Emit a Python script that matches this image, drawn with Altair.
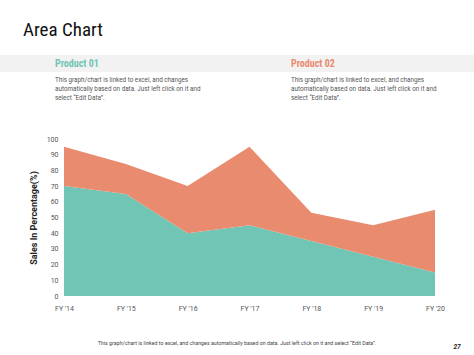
import altair as alt
import pandas as pd

years = ["FY '14", "FY '15", "FY '16", "FY '17", "FY '18", "FY '19", "FY '20"]
product_01 = [70, 65, 40, 45, 35, 25, 15]
product_02 = [25, 19, 30, 50, 18, 20, 40]
series_names = ["Product 01", "Product 02"]
colors = ["#71C5B5", "#E98B6E"]
y_ticks = [0, 10, 20, 30, 40, 50, 60, 70, 80, 90, 100]

desc = ["This graph/chart is linked to excel, and changes",
        "automatically based on data. Just left click on it and",
        "select \u201cEdit Data\u201d."]
footer = "This graph/chart is linked to excel, and changes automatically  based on data. Just left click on it and select \u201cEdit Data\u201d."

rows = []
for i, y in enumerate(years):
    rows.append({"year": y, "series": series_names[0], "value": product_01[i], "ord": 0})
    rows.append({"year": y, "series": series_names[1], "value": product_02[i], "ord": 1})
df = pd.DataFrame(rows)

W, H = 371, 157
L, T = 64, 139
FONT = "Liberation Sans Narrow, Roboto Condensed, Roboto, sans-serif"
BODY = "Roboto, Liberation Sans, sans-serif"

area = alt.Chart(df).mark_area(opacity=1).encode(
    x=alt.X("year:N", sort=years, scale=alt.Scale(type="point", padding=0),
            axis=alt.Axis(title=None, labelAngle=0, domain=False, ticks=False,
                          labelColor="#555555", labelFontSize=7, labelFont=BODY,
                          labelPadding=8)),
    y=alt.Y("value:Q", stack="zero", scale=alt.Scale(domain=[0, 100], nice=False),
            axis=alt.Axis(values=y_ticks, title="Sales In Percentage(%)", grid=False,
                          domain=False, ticks=False, labelColor="#555555",
                          labelFontSize=7, labelFont=BODY, labelPadding=6,
                          titleFontSize=9, titleFont=BODY, titleColor="#222222",
                          titleFontWeight="bold", titlePadding=8)),
    color=alt.Color("series:N", scale=alt.Scale(domain=series_names, range=colors), legend=None),
    order=alt.Order("ord:Q"),
)

one = pd.DataFrame({"a": [0]})

band = alt.Chart(one).mark_rect(color="#F2F2F2").encode(
    x=alt.value(-L), x2=alt.value(474 - L), y=alt.value(55 - T), y2=alt.value(72 - T))

title = alt.Chart(one).mark_text(text="Area Chart", font=FONT, fontSize=19, align="left",
                                 baseline="alphabetic", color="#111111").encode(
    x=alt.value(23 - L), y=alt.value(36 - T))

p1 = alt.Chart(one).mark_text(text="Product 01", font=FONT, fontSize=10, fontWeight="bold",
                              align="left", baseline="middle", color=colors[0]).encode(
    x=alt.value(55 - L), y=alt.value(63.5 - T))
p2 = alt.Chart(one).mark_text(text="Product 02", font=FONT, fontSize=10, fontWeight="bold",
                              align="left", baseline="middle", color=colors[1]).encode(
    x=alt.value(291 - L), y=alt.value(63.5 - T))

d1 = alt.Chart(one).mark_text(text=desc, font=BODY, fontSize=6.3, align="left", lineHeight=9,
                              baseline="top", color="#555555").encode(
    x=alt.value(55 - L), y=alt.value(77 - T))
d2 = alt.Chart(one).mark_text(text=desc, font=BODY, fontSize=6.3, align="left", lineHeight=9,
                              baseline="top", color="#555555").encode(
    x=alt.value(291 - L), y=alt.value(77 - T))

foot = alt.Chart(one).mark_text(text=footer, font=BODY, fontSize=5.3, align="center",
                                baseline="middle", color="#444444").encode(
    x=alt.value(237 - L), y=alt.value(343 - T))
page = alt.Chart(one).mark_text(text="27", font=BODY, fontSize=6.5, fontWeight="bold",
                                fontStyle="italic", align="center", baseline="middle",
                                color="#222222").encode(
    x=alt.value(457 - L), y=alt.value(347 - T))

chart = alt.layer(band, title, p1, p2, d1, d2, area, foot, page).properties(
    width=W, height=H,
    autosize=alt.AutoSizeParams(type="none"),
    padding={"left": L, "top": T, "right": 474 - L - W, "bottom": 355 - T - H},
    background="white",
).configure_view(stroke=None)

chart.save("out.html", embed_options={"renderer": "svg", "actions": False})
